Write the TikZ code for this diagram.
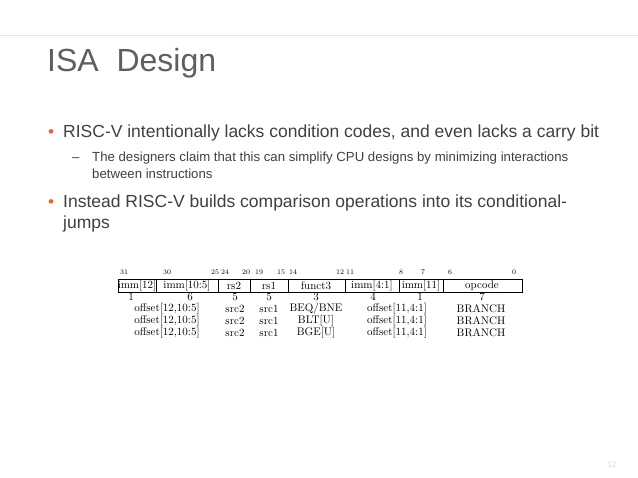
\documentclass[tikz,border=0pt]{standalone}
\usepackage{fontspec}
\setmainfont{Liberation Sans}
\newfontfamily\lmr{Latin Modern Roman}
\definecolor{titlegray}{HTML}{5F5F5F}
\definecolor{bulorange}{HTML}{E5662B}
\definecolor{txtgray}{HTML}{404040}
\begin{document}
\begin{tikzpicture}[x=1pt,y=-1pt,
  body/.style={anchor=base west,inner sep=0,text=txtgray,font=\fontsize{17.5}{21}\selectfont},
  sub/.style={anchor=base west,inner sep=0,text=txtgray,font=\fontsize{13.2}{17}\selectfont},
  tb/.style={inner sep=0,font=\lmr\fontsize{11}{12}\selectfont},
  bitn/.style={inner sep=0,font=\lmr\fontsize{7}{8}\selectfont}]
\useasboundingbox (0,0) rectangle (638,478);
\fill[white] (0,0) rectangle (638,478);
\draw[gray!20,line width=1pt] (0,36) -- (638,36);
\node[anchor=base west,inner sep=0,text=titlegray,font=\fontsize{32}{36}\selectfont] (title) at (47,72) {ISA\ \ Design};
\node[anchor=base west,inner sep=0,text=bulorange,font=\fontsize{17}{21}\selectfont] (b1) at (48,138) {•};
\node[body] (t1) at (63,138) {RISC-V intentionally lacks condition codes, and even lacks a carry bit};
\node[sub] (d1) at (72,162) {–};
\node[sub] (s1) at (92,162) {The designers claim that this can simplify CPU designs by minimizing interactions};
\node[sub] (s2) at (92,179) {between instructions};
\node[anchor=base west,inner sep=0,text=bulorange,font=\fontsize{17}{21}\selectfont] (b2) at (48,208) {•};
\node[body] (t2) at (63,208) {Instead RISC-V builds comparison operations into its conditional-};
\node[body] (t3) at (63,229) {jumps};
% table
\draw[line width=0.5pt] (118,279) rectangle (522,292);
\foreach \x in {156,218,250,288,345,399,443} \draw[line width=0.5pt] (\x,279) -- (\x,292);
\foreach \x/\t/\n in {137/imm[12]/c1,187/imm[10:5]/c2,234/rs2/c3,269/rs1/c4,316/funct3/c5,372/imm[4:1]/c6,421/imm[11]/c7,482/opcode/c8}
  \node[tb] (\n) at (\x,285.5) {\t};
\foreach \x/\t/\n in {124/31/n1,167/30/n2,215/25/n3,225/24/n4,246/20/n5,259/19/n6,281/15/n7,293/14/n8,340/12/n9,350/11/n10,401/8/n11,423/7/n12,450/6/n13,514/0/n14}
  \node[bitn] (\n) at (\x,272) {\t};
\foreach \x/\t/\n in {131/1/w1,190/6/w2,235/5/w3,269/5/w4,316/3/w5,373/4/w6,420/1/w7,482/7/w8}
  \node[tb] (\n) at (\x,297) {\t};
\foreach \y/\f/\r in {309/{BEQ/BNE}/a,321/{BLT[U]}/b,333/{BGE[U]}/c}{
  \node[tb] (o1\r) at (167,\y) {offset[12,10:5]};
  \node[tb] (s2\r) at (235,\y) {src2};
  \node[tb] (s1\r) at (269,\y) {src1};
  \node[tb] (f\r) at (316,\y) {\f};
  \node[tb] (o2\r) at (397,\y) {offset[11,4:1]};
  \node[tb] (br\r) at (481,\y) {BRANCH};
}
\node[inner sep=0,text=gray!30,font=\fontsize{8}{9}\selectfont] (pg) at (612,465) {12};
\end{tikzpicture}
\end{document}
